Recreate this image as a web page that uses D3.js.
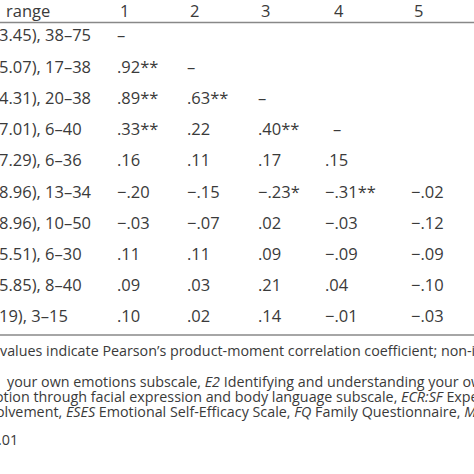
<!DOCTYPE html><html><head><meta charset="utf-8"><script src="https://cdn.jsdelivr.net/npm/d3@7"></script>
<style>body{margin:0;background:#fff;overflow:hidden}text{font-family:"Open Sans",sans-serif;fill:#3a3a3a}</style></head><body><svg width="474" height="474"></svg>
<script>
const header=["range","1","2","3","4","5"];
const rowLabels=["3.45), 38–75","5.07), 17–38","4.31), 20–38","7.01), 6–40","7.29), 6–36","8.96), 13–34","8.96), 10–50","5.51), 6–30","5.85), 8–40","19), 3–15"];
const values=[
["–"],
[".92**","–"],
[".89**",".63**","–"],
[".33**",".22",".40**","–"],
[".16",".11",".17",".15"],
["−.20","−.15","−.23*","−.31**","−.02"],
["−.03","−.07",".02","−.03","−.12"],
[".11",".11",".09","−.09","−.09"],
[".09",".03",".21",".04","−.10"],
[".10",".02",".14","−.01","−.03"]];
const svg=d3.select("svg");
const FS=16.5;
const colX=[117,187,258,325,411];
const y=d3.scalePoint().domain(d3.range(rowLabels.length)).range([37,318]);
svg.append("text").attr("x",6).attr("y",13).attr("font-size",FS).attr("dominant-baseline","middle").text(header[0]);
header.slice(1).forEach((h,i)=>svg.append("text").attr("x",[120,190,261,334,414][i]).attr("y",13).attr("font-size",FS).attr("dominant-baseline","middle").text(h));
svg.append("line").attr("x1",0).attr("x2",474).attr("y1",22.5).attr("y2",22.5).attr("stroke","#888").attr("stroke-width",1.5);
svg.append("line").attr("x1",0).attr("x2",474).attr("y1",335).attr("y2",335).attr("stroke","#888").attr("stroke-width",1.5);
rowLabels.forEach((l,i)=>{
 svg.append("text").attr("x",-1).attr("y",y(i)).attr("font-size",FS).attr("dominant-baseline","middle").text(l);
 values[i].forEach((v,j)=>{
  let x=colX[j]; if(v==="–"&&j===3)x=333;
  svg.append("text").attr("x",x).attr("y",y(i)).attr("font-size",FS).attr("dominant-baseline","middle").text(v);
 });
});
const notes=[
 {y:352,parts:[["values indicate Pearson’s product-moment correlation coefficient; non-italic",0]]},
 {y:383,parts:[["your own emotions subscale, ",0],["E2",1],[" Identifying and understanding your own",0]]},
 {y:398,parts:[["otion through facial expression and body language subscale, ",0],["ECR:SF",1],[" Experiences",0]]},
 {y:413,parts:[["olvement, ",0],["ESES",1],[" Emotional Self-Efficacy Scale, ",0],["FQ",1],[" Family Questionnaire, ",0],["M",1]]},
 {y:441,parts:[[".01",0]]}];
const xs=[0,7,-5,-4,-2];
notes.forEach((n,k)=>{
 const t=svg.append("text").attr("x",xs[k]).attr("y",n.y).attr("font-size",14.3).attr("dominant-baseline","middle");
 n.parts.forEach(p=>t.append("tspan").attr("font-style",p[1]?"italic":"normal").text(p[0]));
});
</script></body></html>
